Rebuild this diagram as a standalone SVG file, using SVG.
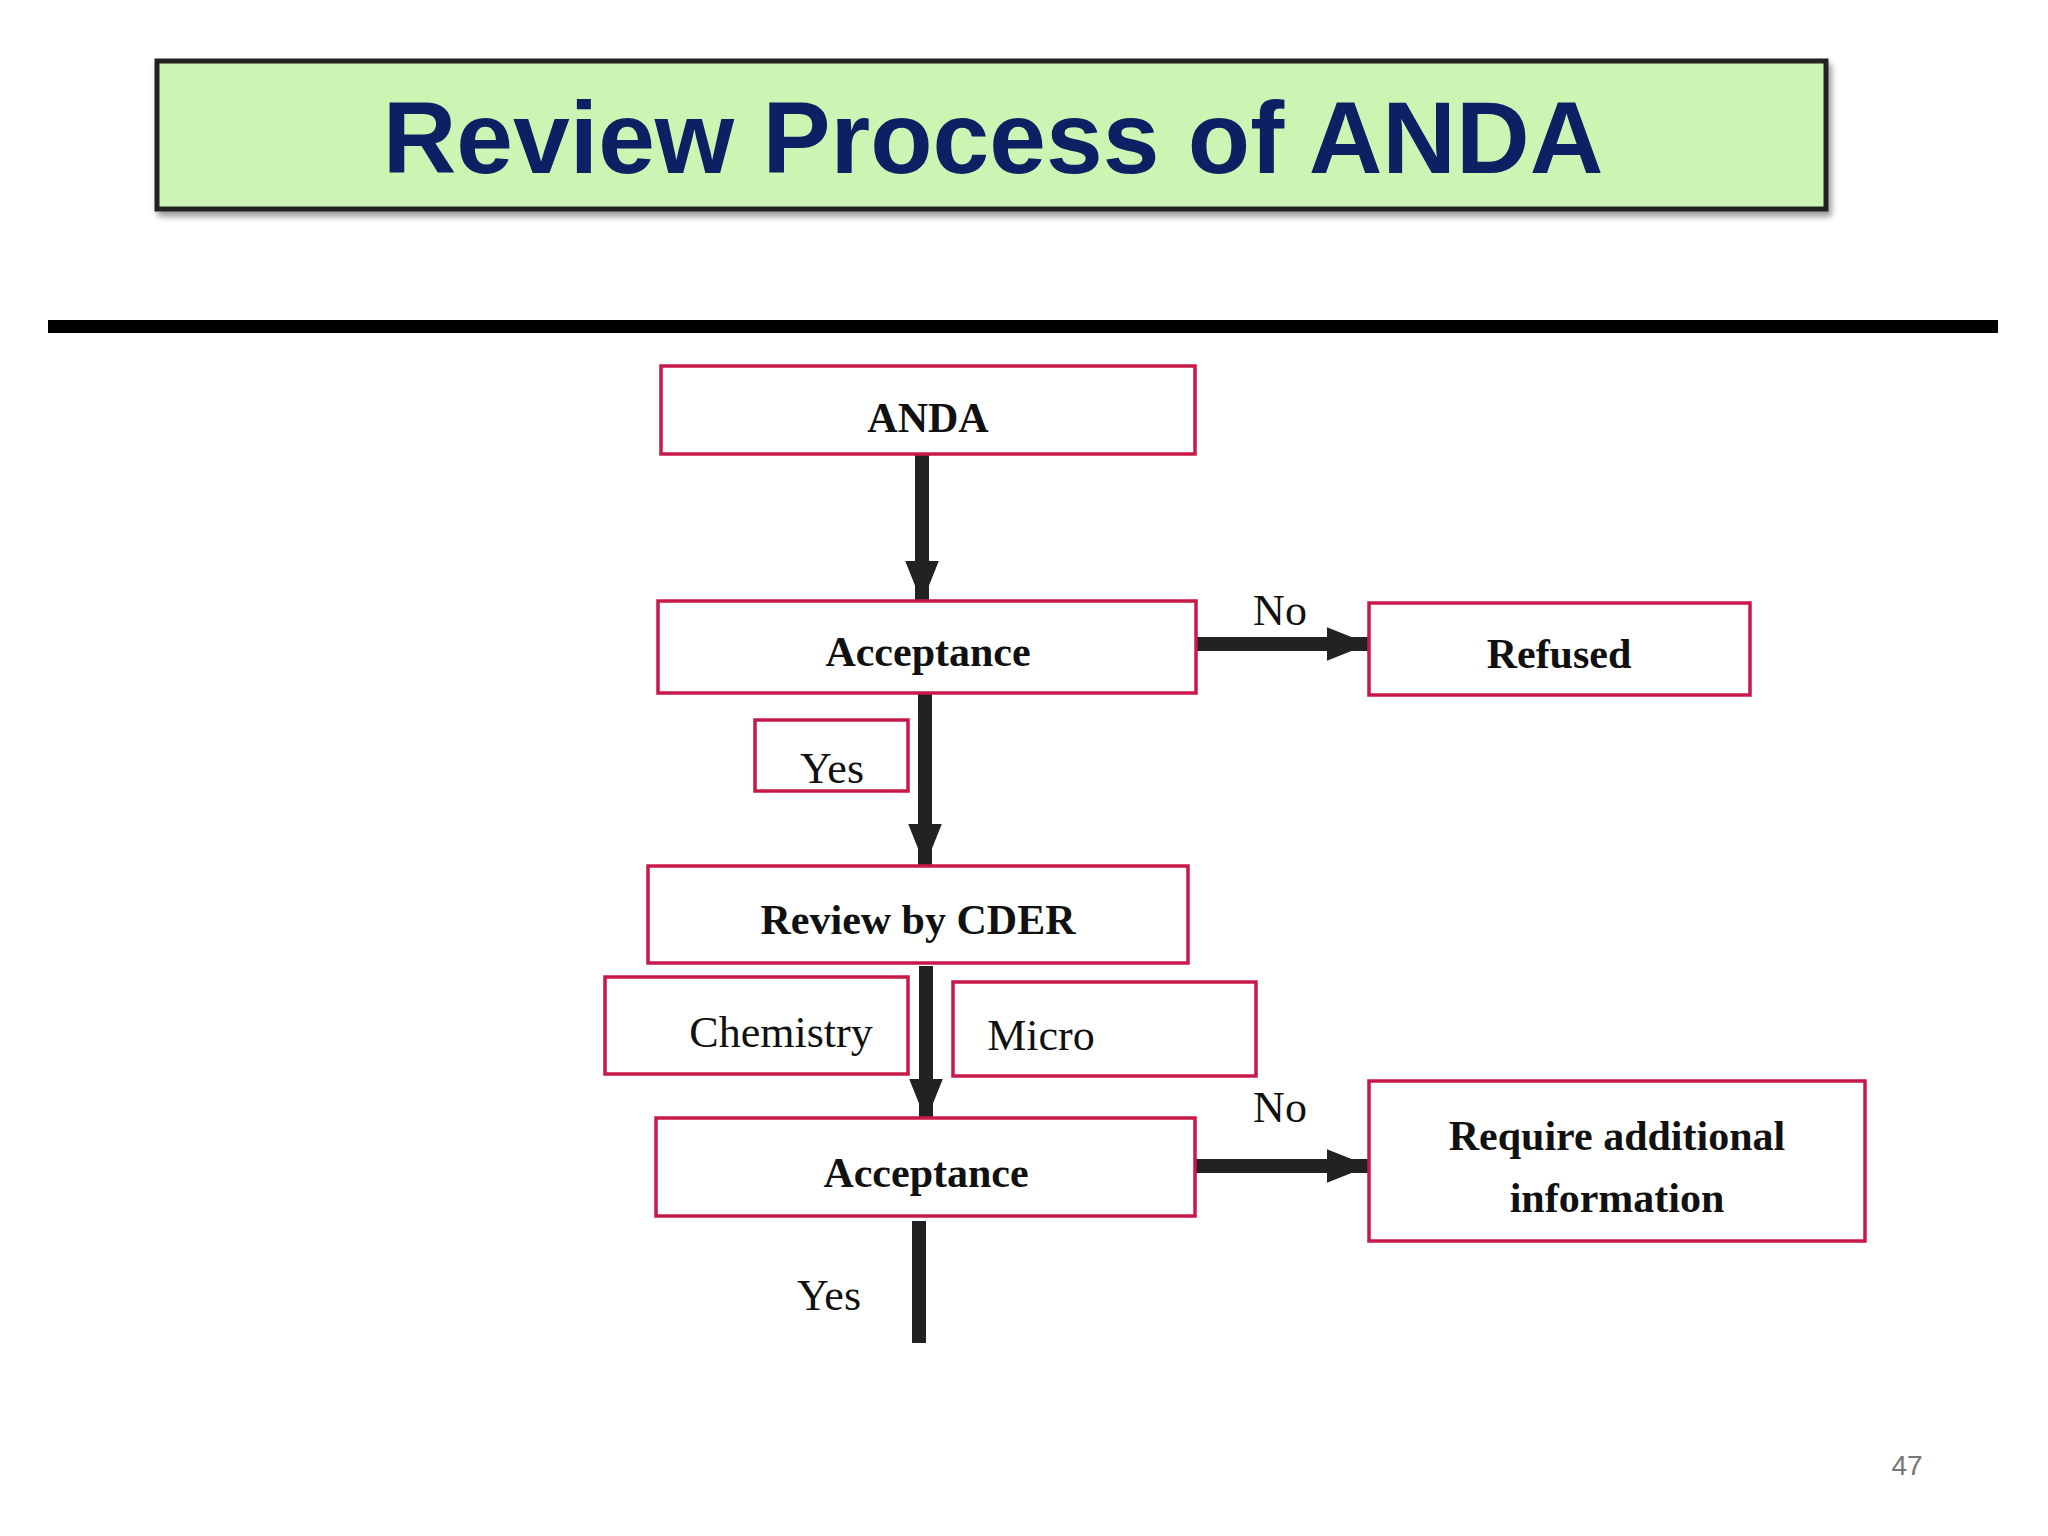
<svg xmlns="http://www.w3.org/2000/svg" width="2048" height="1536" viewBox="0 0 2048 1536">
<style>
.box{fill:#fff;stroke:#c8184a;stroke-width:3.5}
.t{font-family:"Liberation Serif",serif;font-weight:bold;font-size:42px;fill:#111;text-anchor:middle}
.n{font-family:"Liberation Serif",serif;font-size:44px;fill:#111;text-anchor:middle}
.c{stroke:#222;stroke-width:14;fill:none}
</style>
<defs>
<marker id="ah" markerWidth="3" markerHeight="2.4" refX="3" refY="1.2" orient="auto" markerUnits="strokeWidth">
<path d="M0,0 L3,1.2 L0,2.4 z" fill="#222"/>
</marker>
<filter id="sh"><feDropShadow dx="3" dy="5" stdDeviation="3" flood-opacity="0.4"/></filter>
</defs>
<rect width="2048" height="1536" fill="#fff"/>
<g id="title">
<rect x="157" y="61" width="1669" height="148" fill="#ccf5b4" stroke="#222" stroke-width="5" filter="url(#sh)"/>
<text x="993" y="173" font-family="Liberation Sans,Arial,sans-serif" font-weight="bold" font-size="102" fill="#0b2163" text-anchor="middle">Review Process of ANDA</text>
</g>
<rect x="48" y="320" width="1950" height="13" fill="#000"/>
<g id="connectors">
<line class="c" x1="922" y1="454" x2="922" y2="603" marker-end="url(#ah)"/>
<line class="c" x1="925" y1="693" x2="925" y2="866" marker-end="url(#ah)"/>
<line class="c" x1="926" y1="966" x2="926" y2="1121" marker-end="url(#ah)"/>
<line class="c" x1="919" y1="1221" x2="919" y2="1343"/>
<line class="c" x1="1196" y1="644" x2="1369" y2="644" marker-end="url(#ah)"/>
<line class="c" x1="1195" y1="1166" x2="1369" y2="1166" marker-end="url(#ah)"/>
<text class="n" x="1280" y="625">No</text>
<text class="n" x="1280" y="1122">No</text>
<text class="n" x="829" y="1310">Yes</text>
</g>
<g id="anda"><rect class="box" x="661" y="366" width="534" height="88"/><text class="t" x="928" y="432">ANDA</text></g>
<g id="acc1"><rect class="box" x="658" y="601" width="538" height="92"/><text class="t" x="928" y="666">Acceptance</text></g>
<g id="refused"><rect class="box" x="1369" y="603" width="381" height="92"/><text class="t" x="1559" y="668">Refused</text></g>
<g id="yes1"><rect class="box" x="755" y="720" width="153" height="71"/><text class="n" x="832" y="783">Yes</text></g>
<g id="cder"><rect class="box" x="648" y="866" width="540" height="97"/><text class="t" x="918" y="934">Review by CDER</text></g>
<g id="chem"><rect class="box" x="605" y="977" width="303" height="97"/><text class="n" x="781" y="1047">Chemistry</text></g>
<g id="micro"><rect class="box" x="953" y="982" width="303" height="94"/><text class="n" x="1041" y="1050">Micro</text></g>
<g id="acc2"><rect class="box" x="656" y="1118" width="539" height="98"/><text class="t" x="926" y="1187">Acceptance</text></g>
<g id="require"><rect class="box" x="1369" y="1081" width="496" height="160"/><text class="t" x="1617" y="1150">Require additional</text><text class="t" x="1617" y="1212">information</text></g>
<text x="1907" y="1475" font-family="Liberation Sans,sans-serif" font-size="28" fill="#777" text-anchor="middle">47</text>
</svg>
